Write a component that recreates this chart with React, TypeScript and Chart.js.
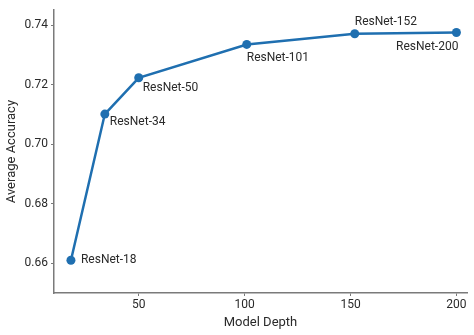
import React, { useEffect, useRef } from "react";
import { Chart, registerables } from "chart.js";

Chart.register(...registerables);

const depths = [18, 34, 50, 101, 152, 200];
const accuracy = [0.661, 0.7101, 0.7223, 0.7335, 0.7371, 0.7375];
const modelNames = ["ResNet-18", "ResNet-34", "ResNet-50", "ResNet-101", "ResNet-152", "ResNet-200"];
const xTicks = [50, 100, 150, 200];
const yTicks = [0.66, 0.68, 0.7, 0.72, 0.74];

// label placement (style only): dx, dy, align
const labelPlacement: [number, number, CanvasTextAlign][] = [
  [10, 0, "left"],
  [5, 8, "left"],
  [4, 10, "left"],
  [0, 14, "left"],
  [0, -12, "left"],
  [2, 14, "right"],
];

const FONT = "Roboto, 'Noto Sans', sans-serif";
const LINE = "#1f6fb0";
const AXIS = "#7a7a7a";
const TEXT = "#2a2a2a";

const labelPlugin = {
  id: "pointLabels",
  afterDatasetsDraw(chart: any) {
    const ctx = chart.ctx;
    const xs = chart.scales.x;
    const ys = chart.scales.y;
    ctx.save();
    ctx.font = `12px ${FONT}`;
    ctx.fillStyle = TEXT;
    ctx.textBaseline = "middle";
    modelNames.forEach((name, i) => {
      const px = xs.getPixelForValue(depths[i]);
      const py = ys.getPixelForValue(accuracy[i]);
      const [dx, dy, align] = labelPlacement[i];
      ctx.textAlign = align;
      ctx.fillText(name, px + dx, py + dy);
    });
    ctx.restore();
  },
};

export default function App() {
  const ref = useRef<HTMLCanvasElement | null>(null);
  useEffect(() => {
    document.body.style.margin = "0";
    if (!ref.current) return;
    const chart = new Chart(ref.current, {
      type: "line",
      data: {
        datasets: [
          {
            data: depths.map((d, i) => ({ x: d, y: accuracy[i] })),
            borderColor: LINE,
            backgroundColor: LINE,
            borderWidth: 2.5,
            pointRadius: 4.5,
            pointBackgroundColor: LINE,
            pointBorderColor: LINE,
            pointBorderWidth: 0,
            tension: 0,
          },
        ],
      },
      options: {
        animation: false,
        responsive: false,
        maintainAspectRatio: false,
        layout: { padding: { top: 6, right: 7, left: 4, bottom: 4 } },
        plugins: { legend: { display: false }, tooltip: { enabled: false } },
        scales: {
          x: {
            type: "linear",
            min: 10,
            max: 205,
            afterBuildTicks: (s: any) => {
              s.ticks = xTicks.map((v) => ({ value: v }));
            },
            afterFit: (s: any) => {
              s.height = 38;
            },
            grid: { display: true, drawOnChartArea: false, drawTicks: true, tickLength: 3, color: AXIS, lineWidth: 1 },
            border: { display: true, color: AXIS, width: 1.5 },
            ticks: { color: TEXT, font: { family: FONT, size: 12 }, padding: 2, maxRotation: 0, callback: (v: any) => String(v) },
            title: { display: true, text: "Model Depth", color: TEXT, font: { family: FONT, size: 13 }, padding: { top: 0, bottom: 0 } },
          },
          y: {
            type: "linear",
            min: 0.65,
            max: 0.745,
            afterBuildTicks: (s: any) => {
              s.ticks = yTicks.map((v) => ({ value: v }));
            },
            afterFit: (s: any) => {
              s.width = 50;
            },
            grid: { display: true, drawOnChartArea: false, drawTicks: true, tickLength: 3, color: AXIS, lineWidth: 1 },
            border: { display: true, color: AXIS, width: 1.5 },
            ticks: { color: TEXT, font: { family: FONT, size: 12 }, padding: 3, callback: (v: any) => Number(v).toFixed(2) },
            title: { display: true, text: "Average Accuracy", color: TEXT, font: { family: FONT, size: 13 }, padding: { top: 0, bottom: 2 } },
          },
        },
      },
      plugins: [labelPlugin],
    } as any);
    return () => chart.destroy();
  }, []);
  return (
    <div style={{ width: 474, height: 335, background: "#fff" }}>
      <canvas ref={ref} width={474} height={335} style={{ display: "block" }} />
    </div>
  );
}
